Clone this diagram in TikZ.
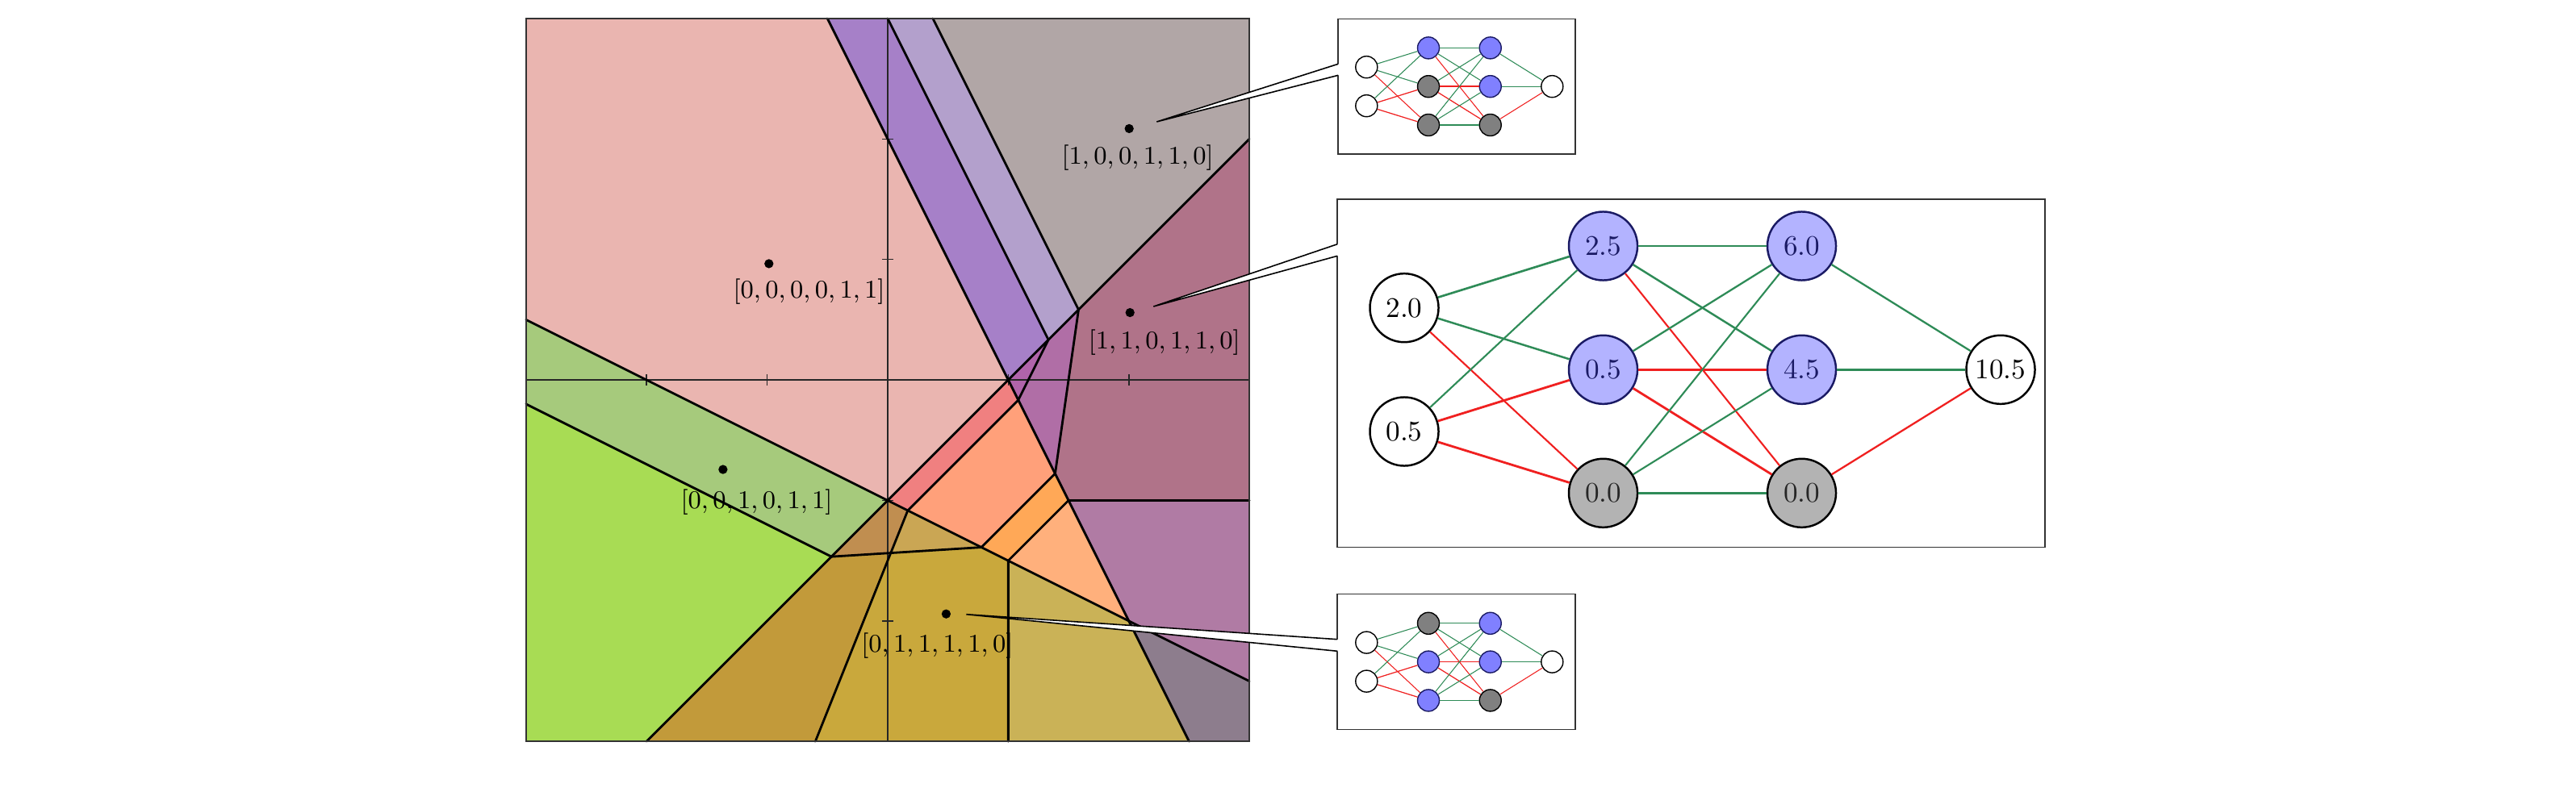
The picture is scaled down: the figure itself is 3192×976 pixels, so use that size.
\documentclass[tikz,border=0pt]{standalone}
\usetikzlibrary{calc}
\definecolor{rPink}{HTML}{EAB5B0}
\definecolor{rDPur}{HTML}{A680C8}
\definecolor{rLPur}{HTML}{B3A0CC}
\definecolor{rGryT}{HTML}{B1A6A6}
\definecolor{rMag}{HTML}{B064AA}
\definecolor{rPPk}{HTML}{B06EA6}
\definecolor{rMauve}{HTML}{B07389}
\definecolor{rLilac}{HTML}{B07BA4}
\definecolor{rGryB}{HTML}{8D7D8D}
\definecolor{rRed}{HTML}{F08080}
\definecolor{rSalm}{HTML}{FFA07A}
\definecolor{rOrng}{HTML}{FFA857}
\definecolor{rLOrng}{HTML}{FFB07C}
\definecolor{rKhaki}{HTML}{CAB257}
\definecolor{rGold}{HTML}{C9A83C}
\definecolor{rBGold}{HTML}{C29A3A}
\definecolor{rTan}{HTML}{CAA654}
\definecolor{rBrown}{HTML}{C08E50}
\definecolor{rGreen}{HTML}{A6CA7C}
\definecolor{rLime}{HTML}{A8DC54}
\definecolor{nGreen}{HTML}{2E8B57}
\definecolor{nRed}{HTML}{F02020}
\definecolor{nBlueL}{HTML}{B3B3FF}
\definecolor{nGrayL}{HTML}{B3B3B3}
\definecolor{nBlueD}{HTML}{8080FF}
\definecolor{nGrayD}{HTML}{808080}
\definecolor{nNavy}{HTML}{1A1A64}
\tikzset{
  bnd/.style={line width=0.8pt, line join=round, line cap=round},
  axisln/.style={line width=0.45pt, black!85},
  plotframe/.style={line width=0.5pt, black!80},
  regdot/.style={circle, fill=black, inner sep=0pt, minimum size=0.113cm},
  reglabel/.style={font=\fontsize{9}{10}\selectfont, inner sep=0pt},
  netbox/.style={draw=black!80, line width=0.45pt, fill=white, inner sep=0pt, outer sep=0pt},
  wedgeln/.style={line width=0.45pt, line join=miter},
  bigneu/.style={circle, draw=black, line width=0.7pt, minimum size=0.85cm, inner sep=0pt},
  bigin/.style={bigneu, fill=white},
  bigon/.style={bigneu, fill=nBlueL, draw=nNavy, text=nNavy},
  bigoff/.style={bigneu, fill=nGrayL, text=black!85},
  smneu/.style={circle, draw=black, line width=0.4pt, minimum size=0.27cm, inner sep=0pt},
  smin/.style={smneu, fill=white},
  smon/.style={smneu, fill=nBlueD, draw=nNavy},
  smoff/.style={smneu, fill=nGrayD},
}
\newcommand\smallnet[8]{%
  \begin{scope}[shift={#2}]
    \node[smin] (#1i1) at (-115,-24) {};
    \node[smin] (#1i2) at (-115,24) {};
    \node[#3] (#1h1) at (-38.3,-47.8) {};
    \node[#4] (#1h2) at (-38.3,0) {};
    \node[#5] (#1h3) at (-38.3,47.8) {};
    \node[#6] (#1g1) at (38.4,-47.8) {};
    \node[#7] (#1g2) at (38.4,0) {};
    \node[#8] (#1g3) at (38.4,47.8) {};
    \node[smin] (#1o) at (115,0) {};
    \foreach \a/\b/\c/\w in {i1/h1/nGreen/0.3pt, i1/h2/nGreen/0.3pt, i1/h3/nRed/0.3pt,
        i2/h1/nGreen/0.3pt, i2/h2/nRed/0.35pt, i2/h3/nRed/0.35pt,
        h1/g1/nGreen/0.35pt, h1/g2/nGreen/0.3pt, h1/g3/nRed/0.3pt,
        h2/g1/nGreen/0.3pt, h2/g2/nRed/0.4pt, h2/g3/nRed/0.35pt,
        h3/g1/nGreen/0.3pt, h3/g2/nGreen/0.3pt, h3/g3/nGreen/0.35pt,
        g1/o/nGreen/0.3pt, g2/o/nGreen/0.35pt, g3/o/nRed/0.3pt}
      \draw[color=\c, line width=\w] (#1\a) -- (#1\b);
  \end{scope}}
\begin{document}
\begin{tikzpicture}[x=0.01cm,y=-0.01cm]
\useasboundingbox (0,0) rectangle (3192,976);
% ---------------- region plot ----------------
\begin{scope}[shift={(10.993cm,-4.708cm)},x=1.493cm,y=1.493cm]
  \fill[rPink] (-3,3) -- (-0.5,3) -- (1,0) -- (0,-1) -- (-3,0.5) -- cycle;
  \fill[rDPur] (-0.5,3) -- (0,3) -- (4/3,1/3) -- (1,0) -- cycle;
  \fill[rLPur] (0,3) -- (0.375,3) -- (19/12,7/12) -- (4/3,1/3) -- cycle;
  \fill[rGryT] (0.375,3) -- (3,3) -- (3,2) -- (19/12,7/12) -- cycle;
  \fill[rMag] (1,0) -- (4/3,1/3) -- (13/12,-1/6) -- cycle;
  \fill[rPPk] (4/3,1/3) -- (19/12,7/12) -- (25/18,-7/9) -- (13/12,-1/6) -- cycle;
  \fill[rMauve] (19/12,7/12) -- (3,2) -- (3,-1) -- (1.5,-1) -- (25/18,-7/9) -- cycle;
  \fill[rLilac] (1.5,-1) -- (3,-1) -- (3,-2.5) -- (2,-2) -- cycle;
  \fill[rGryB] (2,-2) -- (3,-2.5) -- (3,-3) -- (2.5,-3) -- cycle;
  \fill[rRed] (0,-1) -- (1,0) -- (13/12,-1/6) -- (1/6,-13/12) -- cycle;
  \fill[rSalm] (1/6,-13/12) -- (13/12,-1/6) -- (25/18,-7/9) -- (7/9,-25/18) -- cycle;
  \fill[rOrng] (7/9,-25/18) -- (25/18,-7/9) -- (1.5,-1) -- (1,-1.5) -- cycle;
  \fill[rLOrng] (1,-1.5) -- (1.5,-1) -- (2,-2) -- cycle;
  \fill[rKhaki] (1,-1.5) -- (2,-2) -- (2.5,-3) -- (1,-3) -- cycle;
  \fill[rGold] (1/39,-56/39) -- (7/9,-25/18) -- (1,-1.5) -- (1,-3) -- (-0.6,-3) -- cycle;
  \fill[rBGold] (-7/15,-22/15) -- (1/39,-56/39) -- (-0.6,-3) -- (-2,-3) -- cycle;
  \fill[rTan] (1/6,-13/12) -- (7/9,-25/18) -- (1/39,-56/39) -- cycle;
  \fill[rBrown] (0,-1) -- (1/6,-13/12) -- (1/39,-56/39) -- (-7/15,-22/15) -- cycle;
  \fill[rGreen] (-3,0.5) -- (0,-1) -- (-7/15,-22/15) -- (-3,-0.2) -- cycle;
  \fill[rLime] (-3,-0.2) -- (-7/15,-22/15) -- (-2,-3) -- (-3,-3) -- cycle;
  % axes
  \draw[axisln] (-3,0) -- (3,0);
  \draw[axisln] (0,-3) -- (0,3);
  \foreach \t in {-2,-1,1,2} {
    \draw[axisln] (\t,-0.045) -- (\t,0.045);
    \draw[axisln] (-0.045,\t) -- (0.045,\t);
  }
  % boundaries
  \draw[bnd] (-0.5,3) -- (2.5,-3);
  \draw[bnd] (-3,0.5) -- (3,-2.5);
  \draw[bnd] (-2,-3) -- (3,2);
  \draw[bnd] (0.375,3) -- (19/12,7/12) -- (25/18,-7/9) -- (7/9,-25/18) -- (-7/15,-22/15) -- (-3,-0.2);
  \draw[bnd] (1,-3) -- (1,-1.5) -- (1.5,-1) -- (3,-1);
  \draw[bnd] (0,3) -- (4/3,1/3) -- (13/12,-1/6) -- (1/6,-13/12) -- (-0.6,-3);
  \draw[plotframe] (-3,-3) rectangle (3,3);
  % points and labels
  \node[regdot] (dA) at (2.003,2.086) {};
  \node[regdot] (dB) at (2.01,0.559) {};
  \node[regdot] (dC) at (-0.985,0.965) {};
  \node[regdot] (dD) at (-1.366,-0.743) {};
  \node[regdot] (dE) at (0.485,-1.942) {};
  \node[reglabel] (lA) at (2.073,1.847) {$[1,0,0,1,1,0]$};
  \node[reglabel] (lB) at (2.295,0.313) {$[1,1,0,1,1,0]$};
  \node[reglabel] (lC) at (-0.652,0.731) {$[0,0,0,0,1,1]$};
  \node[reglabel] (lD) at (-1.087,-1.016) {$[0,0,1,0,1,1]$};
  \node[reglabel] (lE) at (0.411,-2.205) {$[0,1,1,1,1,0]$};
\end{scope}
% ---------------- boxes ----------------
\node[netbox, minimum width=2.934cm, minimum height=1.677cm] (boxT) at (1805,107.2) {};
\node[netbox, minimum width=8.763cm, minimum height=4.313cm] (boxM) at (2095.6,462.6) {};
\node[netbox, minimum width=2.944cm, minimum height=1.676cm] (boxB) at (1804.5,820.5) {};
% ---------------- callout wedges ----------------
\coordinate (apT) at (1433.3,151);
\coordinate (apM) at (1429.3,380);
\coordinate (apB) at (1197.3,761.7);
\coordinate (bT1) at ($(boxT.west)+(0,-27.9)$);
\coordinate (bT2) at ($(boxT.west)+(0,-13.9)$);
\coordinate (bM1) at ($(boxM.west)+(0,-159.9)$);
\coordinate (bM2) at ($(boxM.west)+(0,-145.3)$);
\coordinate (bB1) at ($(boxB.west)+(0,-27.8)$);
\coordinate (bB2) at ($(boxB.west)+(0,-13.2)$);
\foreach \p in {T,M,B} {
  \fill[white] (ap\p) -- (b\p1) -- ($(b\p1)+(3,0)$) -- ($(b\p2)+(3,0)$) -- (b\p2) -- cycle;
  \draw[wedgeln] (b\p1) -- (ap\p) -- (b\p2);
}
% ---------------- big network ----------------
\node[bigin] (I1) at (1740,381.7) {2.0};
\node[bigin] (I2) at (1740,535) {0.5};
\node[bigon] (H1) at (1986.5,305) {2.5};
\node[bigon] (H2) at (1986.5,458.3) {0.5};
\node[bigoff] (H3) at (1986.5,611.3) {0.0};
\node[bigon] (G1) at (2232.5,305) {6.0};
\node[bigon] (G2) at (2232.5,458.3) {4.5};
\node[bigoff] (G3) at (2232.5,611.3) {0.0};
\node[bigin] (O) at (2479,458.3) {10.5};
\foreach \a/\b/\c/\w in {I1/H1/nGreen/0.75pt, I1/H2/nGreen/0.7pt, I1/H3/nRed/0.6pt,
    I2/H1/nGreen/0.6pt, I2/H2/nRed/0.8pt, I2/H3/nRed/0.8pt,
    H1/G1/nGreen/0.75pt, H1/G2/nGreen/0.7pt, H1/G3/nRed/0.6pt,
    H2/G1/nGreen/0.65pt, H2/G2/nRed/0.85pt, H2/G3/nRed/0.8pt,
    H3/G1/nGreen/0.6pt, H3/G2/nGreen/0.6pt, H3/G3/nGreen/0.75pt,
    G1/O/nGreen/0.65pt, G2/O/nGreen/0.8pt, G3/O/nRed/0.65pt}
  \draw[color=\c, line width=\w] (\a) -- (\b);
% ---------------- small networks ----------------
\smallnet{t}{(1808.3,107.2)}{smon}{smoff}{smoff}{smon}{smon}{smoff}
\smallnet{b}{(1808.3,820.6)}{smoff}{smon}{smon}{smon}{smon}{smoff}
\end{tikzpicture}
\end{document}
